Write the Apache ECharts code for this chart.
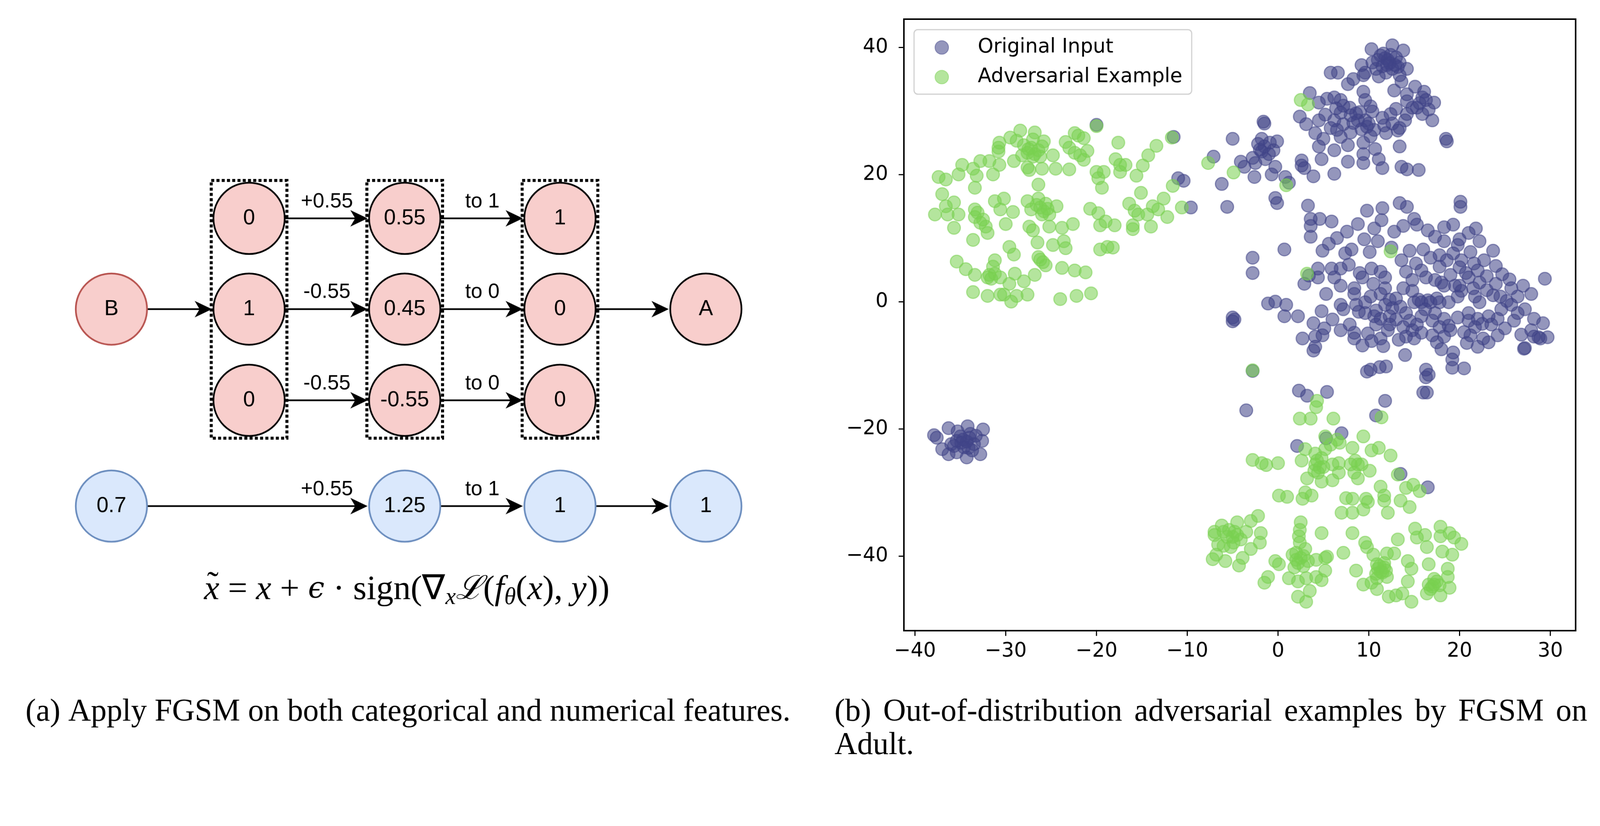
<!DOCTYPE html>
<html><head><meta charset="utf-8">
<script src="https://cdn.jsdelivr.net/npm/echarts@6/dist/echarts.min.js"></script>
<style>html,body{margin:0;padding:0;background:#fff;overflow:hidden}#c{width:4266px;height:2114px;transform-origin:0 0}</style>
</head><body><div id="c"></div>
<script>
// ---------------- scatter (b) data ----------------
const xTicks = [-40, -30, -20, -10, 0, 10, 20, 30];
const yTicks = [-40, -20, 0, 20, 40];
const seriesNames = ['Original Input', 'Adversarial Example'];

const originalInput = [
[-37.9,-21.0],[-37.6,-21.4],[-36.3,-19.9],[-36.3,-24.0],[-37.0,-23.2],[-35.3,-20.4],[-34.2,-19.6],[-32.5,-20.1],[-32.6,-21.9],[-32.8,-24.0],[-34.3,-24.5],[-35.4,-23.7],[-34.7,-21.7],[-34.0,-21.4],[-35.4,-21.9],[-33.5,-22.4],[-34.6,-22.9],[-35.7,-22.7],[-33.3,-21.1],[-33.7,-23.4],[-34.9,-22.2],[-34.3,-22.0],[-35.0,-21.2],[-34.1,-23.0],[-36.0,-22.4],[-33.9,-20.8],
[-20.0,27.8],[-11.5,25.9],[-11.0,19.4],[-10.4,19.0],[-9.6,14.8],
[-1.6,28.3],[-1.5,28.0],[-5.0,25.6],[-1.8,25.6],[-2.2,24.8],[-0.9,25.0],[-0.1,25.2],[-1.8,23.6],[-2.8,22.6],[-4.1,22.0],[-3.7,21.2],[-1.4,22.4],[-0.3,21.2],[-0.7,20.0],[-2.6,19.6],[0.8,19.6],[1.2,18.7],[-6.2,18.5],[-5.6,14.9],[-0.3,16.3],[-0.1,15.5],[-7.1,22.8],[3.3,15.1],[-1.5,24.4],[-2.0,23.9],[-1.0,23.2],[-2.5,21.8],[-0.5,23.8],
[10.3,39.7],[12.6,40.3],[13.8,39.5],[11.3,38.7],[12.1,38.0],[13.0,38.4],[13.4,37.6],[11.5,37.0],[12.6,36.6],[14.2,36.6],[10.4,37.6],[9.2,37.2],[9.6,36.0],[11.1,35.4],[13.4,35.6],[13.6,34.6],[8.3,35.0],[7.7,34.2],[9.4,35.6],[12.8,33.2],[14.2,32.6],[14.2,31.5],[15.1,33.8],[16.1,33.0],[15.9,32.1],[17.2,31.3],[15.3,30.5],[15.9,29.5],[17.0,28.5],[14.2,29.5],[14.0,28.5],[13.0,30.3],[13.4,27.3],[11.8,38.3],[12.3,37.5],[11.0,38.0],[12.9,37.2],[11.6,39.0],[12.4,38.8],[12.0,37.2],[13.2,36.9],[10.8,36.6],[11.9,36.0],
[5.8,36.0],[6.6,36.0],[5.4,31.9],[6.2,32.1],[6.9,31.7],[7.9,30.5],[9.4,33.0],[9.6,31.7],[10.2,30.7],[10.4,29.9],[11.5,28.9],[11.7,27.7],[11.9,26.5],[8.8,28.5],[9.6,28.5],[9.2,27.1],[8.3,28.1],[6.9,29.7],[6.2,28.5],[5.8,27.3],[6.9,25.9],[7.7,24.6],[9.4,25.0],[10.2,26.0],[10.7,24.0],[9.4,23.2],[11.1,22.4],[7.7,22.0],[9.4,21.8],[11.5,21.0],[6.2,20.1],[3.9,19.7],[4.5,28.5],[4.1,26.5],[4.5,24.4],[6.2,23.8],[4.8,22.4],[2.6,22.2],[2.6,21.4],[2.9,21.0],[2.4,29.1],[3.1,27.9],[4.5,31.3],[3.5,32.8],[13.4,24.4],[13.6,21.2],[14.2,20.8],[15.5,20.7],[13.2,26.9],[18.5,25.6],[18.6,25.2],[8.0,29.3],[9.0,29.8],[10.0,28.0],[7.2,30.8],
[8.6,29.6],[9.8,27.5],[10.6,27.0],[8.0,26.6],[7.2,27.9],[6.5,27.0],[12.4,29.5],[12.6,28.0],[14.8,30.5],[15.6,31.2],[16.6,30.2],[16.3,31.7],[6.4,30.4],[5.2,29.4],[5.0,25.6],
[13.4,15.5],[14.2,14.9],[11.5,14.7],[9.8,14.3],[20.1,15.7],[20.1,14.9],
[11.4,12.8],[15.0,13.0],[15.3,12.1],[3.6,13.0],[4.6,13.0],[5.9,12.6],[3.6,11.9],[3.6,10.2],[7.6,11.0],[10.6,11.5],[12.8,11.0],[13.8,11.9],[18.3,11.7],[19.3,12.1],[17.3,10.2],[18.3,9.5],[19.8,8.9],[21.0,10.8],[22.2,9.5],[21.2,7.8],[16.0,8.2],[16.8,6.9],[17.8,7.3],[19.3,7.6],[20.2,6.5],[22.7,6.5],[23.7,8.0],[24.0,5.6],[24.7,4.3],[22.0,4.9],[20.0,5.4],[20.7,4.5],[5.6,9.1],[4.9,8.0],[7.4,7.6],[8.1,8.2],[10.1,7.8],[13.6,6.5],[0.7,8.2],[-2.8,6.9],[-2.8,4.5],[4.4,5.2],[3.4,4.1],[4.4,3.8],[5.9,5.2],[6.9,5.2],[2.9,2.8],[6.9,2.5],[8.4,2.1],[9.3,3.8],[10.3,5.2],[11.3,4.7],[11.8,3.8],[14.1,4.7],[14.8,3.4],[15.8,4.9],[16.3,3.8],[17.3,3.4],[18.0,3.0],
[18.3,2.5],[19.5,2.5],[20.2,1.7],[21.5,2.1],[22.2,3.0],[21.7,0.8],[22.2,-0.1],[24.5,0.8],[25.7,2.1],[26.4,0.8],[27.9,1.2],[29.4,3.6],[25.7,-0.5],[26.4,-1.8],[27.2,-1.2],[28.2,-2.7],[29.2,-3.4],[27.9,-4.5],[28.2,-5.5],[28.9,-5.8],[27.2,-7.3],[24.2,-2.7],[23.2,-2.3],[23.5,-3.6],[24.2,-5.3],[23.2,-6.4],[22.0,-2.7],[21.7,-4.0],[21.2,-5.3],[22.0,-7.1],[21.0,-1.8],[20.0,2.5],[19.8,0.8],[18.8,-0.1],[17.8,-0.1],[16.8,-0.1],[15.8,-0.1],[15.0,-0.1],[14.8,1.7],[13.8,2.1],[14.1,-1.8],[15.8,-2.3],[17.3,-1.8],[18.3,-2.7],[18.8,-3.8],[17.8,-4.0],[15.3,-3.6],[14.8,-4.5],[15.8,-4.9],[15.0,-5.8],[17.0,-5.3],[17.5,-6.4],[18.3,-5.5],[18.0,-7.5],[19.3,-8.0],
[12.3,0.3],[12.6,-1.0],[12.3,-2.3],[12.3,-3.6],[12.1,-4.5],[11.3,-2.7],[10.8,-1.4],[10.6,-2.3],[11.3,1.2],[11.8,2.1],[10.8,-3.6],[9.6,-0.1],[9.6,-1.8],[8.9,-1.6],[8.4,1.2],[8.6,-0.5],[6.9,-0.5],[13.8,-4.0],[14.1,-5.5],[13.3,-6.0],[11.3,-5.8],[10.3,-6.2],[9.3,-6.9],[8.4,-5.8],[8.4,-4.9],[7.9,-3.6],[6.9,-4.5],[5.1,-4.2],[4.9,-5.3],[4.1,-5.5],[4.1,-7.1],[3.9,-7.7],[2.7,-5.8],[-1.1,-0.3],[-0.3,0.0],[0.9,-0.5],[0.7,-2.3],[2.2,-2.3],[3.9,-3.4],[-5.0,-2.5],[-5.0,-3.1],[-4.8,-2.8],[23.7,1.0],[25.2,0.1],[15.5,0.3],[16.5,0.2],[17.5,0.5],[21.0,-3.0],[22.5,-3.5],[19.0,-4.5],
[13.0,0.5],[13.5,-0.8],[11.8,-0.5],[10.2,0.8],[10.5,2.8],[9.0,4.5],[7.8,5.8],[6.2,3.8],[5.3,1.2],[4.8,-1.5],[6.0,-2.8],[7.2,-1.2],[9.9,-5.0],[11.6,-7.0],[13.0,-2.8],[14.5,-3.0],[16.2,-1.2],[17.0,-3.0],[19.8,-2.5],[20.5,-4.8],[20.8,-6.5],[22.6,-5.8],[24.6,-1.2],[25.0,-4.2],[26.0,-3.0],[26.8,-5.2],[23.0,1.8],[24.0,2.8],[25.5,3.5],[27.0,2.5],[21.0,3.8],[19.0,4.2],[17.8,5.5],[18.6,6.5],[21.6,6.0],[23.0,4.0],[15.2,6.0],[14.5,8.0],[12.5,8.5],[11.0,9.5],[9.5,9.8],[6.5,10.0],[8.8,12.2],[16.5,11.2],[20.0,9.8],[21.8,11.5],
[16.3,-10.7],[16.3,-11.9],[16.6,-11.5],[16.0,-14.3],[16.4,-14.3],[20.5,-10.5],[19.2,-9.1],[19.2,-10.4],[27.1,-7.4],[28.7,-5.6],[29.7,-5.6],[14.0,-8.4],[9.8,-11.0],[10.2,-10.7],[11.2,-10.3],[11.9,-10.2],[11.8,-15.6],[10.8,-17.9],[2.3,-14.0],[3.2,-14.8],[5.4,-14.2],[-3.5,-17.1],[-2.8,-10.9],[7.0,-20.7],[5.3,-21.5],[2.1,-22.7],[13.5,-27.1],[16.5,-29.2]
];

const adversarialExample = [
[-28.4,26.9],[-26.8,26.6],[-28.8,25.3],[-25.8,25.2],[-30.7,25.0],[-30.8,24.2],[-30.8,23.6],
[-28.0,24.6],[-27.2,24.2],[-27.6,23.4],[-26.4,23.8],[-26.0,24.4],[-28.2,23.0],[-27.0,22.8],[-26.2,22.8],[-27.5,24.0],[-26.8,23.2],[-27.0,25.5],[-29.5,25.8],
[-29.1,22.1],[-27.6,21.1],[-27.4,20.7],[-26.0,20.9],[-24.5,20.9],
[-23.4,25.1],[-22.4,26.5],[-22.0,26.1],[-21.4,25.7],[-23.0,24.2],[-22.4,23.4],[-21.8,23.0],[-21.0,23.7],[-21.4,22.3],[-24.8,23.0],[-23.0,20.8],
[-20.0,27.6],[-17.6,25.0],[-13.4,24.5],[-14.3,23.0],[-14.9,21.4],[-15.6,19.8],[-11.7,25.8],
[-17.9,22.4],[-17.4,21.5],[-16.8,21.5],[-17.4,20.4],
[-20.0,20.4],[-19.2,20.4],[-19.8,19.4],[-19.4,17.9],
[-11.6,18.2],[-15.1,17.1],[-12.6,16.2],[-10.6,14.8],
[-16.4,15.4],[-15.8,14.3],[-15.4,13.7],[-13.8,15.0],[-13.2,14.5],[-14.4,13.7],[-14.0,11.8],[-16.0,12.0],[-16.0,11.4],[-12.2,13.3],
[-20.7,14.6],[-19.8,13.9],[-19.0,12.6],[-18.0,12.0],[-19.6,12.0],
[-19.6,8.2],[-18.8,8.6],[-18.2,8.5],
[-37.4,19.6],[-36.6,19.2],[-35.2,20.0],[-34.8,21.5],[-37.0,16.9],[-36.6,15.0],[-35.7,15.6],[-37.8,13.7],[-36.4,13.7],[-35.2,13.7],[-35.7,11.6],[-33.4,17.9],[-33.6,20.9],[-32.8,22.1],[-31.8,22.1],[-30.7,21.5],[-31.4,20.0],[-33.2,19.8],
[-33.4,14.5],[-33.4,13.3],[-32.8,12.4],[-32.2,11.8],[-32.0,10.8],[-33.6,9.7],[-31.2,15.8],[-30.2,16.2],[-30.6,14.5],[-29.2,14.1],[-30.0,12.2],[-33.1,14.0],[-32.5,12.9],
[-26.4,18.4],[-27.6,15.8],[-26.4,16.2],[-25.6,15.4],[-27.2,14.5],[-26.0,13.7],[-25.2,13.7],[-24.4,15.0],[-27.4,11.8],[-27.0,11.2],[-25.2,11.8],[-23.8,11.6],[-22.6,12.2],[-23.6,9.5],[-23.4,8.4],[-24.8,8.9],[-26.5,9.3],[-26.2,14.8],[-25.8,14.2],[-26.6,15.2],[-25.4,14.6],
[-29.6,8.6],[-29.1,7.4],[-26.4,7.0],[-25.6,5.7],[-26.8,4.2],[-28.0,3.2],[-29.0,4.4],[-29.6,2.8],[-32.0,3.8],[-31.2,4.4],[-30.6,3.8],[-31.2,6.5],[-31.4,5.5],[-33.4,4.2],[-34.4,5.1],[-35.4,6.3],[-31.6,3.6],[-25.9,6.2],[-31.8,4.2],[-26.2,6.6],
[-23.8,5.3],[-22.4,4.9],[-21.2,4.6],[-24.0,0.4],[-22.2,0.9],[-20.6,1.3],[-33.6,1.5],[-32.0,0.9],[-30.6,1.1],[-29.4,0.0],[-28.8,0.9],[-27.6,1.1],[-30.2,1.1],
[2.5,31.7],[3.3,31.0],[-7.7,21.8],[-4.9,20.3],[0.9,18.3],[12.4,7.9],[3.2,4.4],[-2.8,-10.8],
[4.3,-15.6],[4.2,-16.6],[2.4,-18.4],[3.6,-18.4],[6.1,-18.4],[5.2,-21.2],[6.5,-21.7],[9.4,-21.2],[11.4,-18.2],
[3.0,-23.2],[4.1,-23.9],[5.2,-23.2],[5.8,-22.5],[6.8,-22.2],[8.2,-23.0],[10.3,-23.4],[11.1,-23.0],[12.4,-24.2],
[-2.8,-24.9],[-1.8,-25.4],[-1.3,-25.7],[0.0,-25.4],[2.6,-25.0],[4.1,-25.6],[4.6,-26.1],[4.4,-26.9],[6.0,-25.6],[6.7,-25.4],[6.7,-26.9],[8.0,-25.6],[8.8,-25.6],[9.2,-25.6],[8.4,-26.9],[10.1,-26.6],[8.8,-27.8],[6.0,-28.1],[4.8,-28.3],[3.2,-27.8],[13.2,-27.2],[11.3,-29.1],[14.1,-29.3],[14.9,-28.8],[15.6,-29.8],[4.0,-26.6],[4.3,-25.0],[5.0,-26.0],[8.5,-25.0],[4.8,-24.6],
[0.1,-30.5],[1.0,-30.7],[3.0,-30.0],[2.7,-31.0],[3.7,-30.5],[7.5,-30.9],[8.2,-31.0],[9.7,-31.0],[9.9,-31.5],[11.7,-30.5],[11.7,-31.3],[13.5,-31.3],[14.5,-32.3],[9.4,-32.7],[7.0,-33.2],[8.2,-33.2],[12.1,-33.2],
[-2.2,-33.7],[-3.0,-34.5],[-4.5,-34.7],[-6.2,-35.2],[-7.0,-36.2],[-5.4,-35.9],[-4.5,-36.7],[-4.1,-37.4],[-4.9,-37.9],[-3.5,-36.2],[-1.9,-36.4],[-2.0,-37.9],[-3.0,-38.9],[-3.9,-40.3],[-4.3,-41.5],[-6.0,-38.4],[-6.8,-39.8],[-5.8,-40.8],[-4.8,-36.2],[-5.0,-37.0],[-7.0,-36.7],[-6.6,-38.2],[-7.2,-40.5],[-5.6,-37.0],[-6.0,-36.2],[-5.2,-38.6],
[2.5,-34.7],[2.4,-35.9],[2.3,-36.9],[2.4,-37.9],[3.0,-38.9],[1.6,-39.8],[2.5,-40.3],[2.2,-41.1],[3.3,-40.8],[1.8,-41.8],[-0.3,-40.8],[0.1,-41.3],[-1.1,-43.3],[-1.5,-44.2],[1.2,-43.5],[2.2,-44.0],[3.1,-43.5],[4.2,-43.3],[4.8,-43.8],[3.5,-45.5],[2.2,-46.4],[3.1,-47.2],[4.8,-36.4],[5.2,-40.3],[5.4,-40.1],[4.2,-40.6],[5.2,-42.3],[7.2,-39.5],[8.2,-36.4],[8.6,-42.3],[9.4,-44.5],[2.8,-40.0],[2.0,-40.6],[2.0,-39.5],[2.8,-41.6],
[9.6,-37.9],[9.8,-38.6],[10.5,-39.8],[10.9,-41.3],[11.7,-41.8],[11.3,-42.5],[10.9,-43.5],[10.3,-44.2],[10.9,-45.2],[11.7,-41.1],[12.0,-39.6],[12.8,-39.6],[12.0,-43.3],[12.2,-46.4],[13.0,-46.2],[13.7,-45.9],[14.7,-47.2],[14.3,-40.8],[14.7,-42.0],[14.3,-44.0],[13.2,-37.4],[11.0,-42.0],[11.5,-42.6],[11.2,-41.6],[10.8,-42.8],[11.9,-42.3],
[15.1,-35.7],[16.2,-36.7],[15.3,-37.1],[16.4,-38.6],[16.6,-41.3],[17.9,-35.4],[17.9,-36.9],[18.9,-36.4],[19.4,-37.1],[20.2,-38.1],[18.1,-39.3],[19.2,-39.8],[18.7,-42.0],[18.7,-43.3],[18.9,-45.0],[16.6,-44.5],[17.2,-44.5],[17.5,-44.0],[16.4,-45.9],[17.9,-46.2],[17.0,-44.8],[17.2,-43.6],[16.8,-45.2],[17.8,-44.6]
];

// ---------------- diagram (a) data ----------------
// layout positions in node-diameter units
const colX = [1.531, 3.423, 5.562, 7.696, 9.701];
const rowY = [3.0, 4.247, 5.5, 6.954];
const nodeCol  = [0, 1, 1, 1, 2, 2, 2, 3, 3, 3, 4, 0, 2, 3, 4];
const nodeRow  = [1, 0, 1, 2, 0, 1, 2, 0, 1, 2, 1, 3, 3, 3, 3];
const nodeText = ['B', '0', '1', '0', '0.55', '0.45', '-0.55', '1', '0', '0', 'A', '0.7', '1.25', '1', '1'];
const nodeKind = [0, 1, 1, 1, 1, 1, 1, 1, 1, 1, 1, 2, 2, 2, 2];
const edgeFrom = [0, 1, 2, 3, 4, 5, 6, 8, 11, 12, 13];
const edgeTo   = [2, 4, 5, 6, 7, 8, 9, 10, 12, 13, 14];
const labelText = ['+0.55', '-0.55', '-0.55', 'to 1', 'to 0', 'to 0', '+0.55', 'to 1'];
const labelGap  = [1, 1, 1, 2, 2, 2, 1, 2];
const labelRow  = [0, 1, 2, 0, 1, 2, 3, 3];
const groupCols = [1, 2, 3];

const kinds = [
  {fill: '#f8cecc', stroke: '#b85450'},
  {fill: '#f8cecc', stroke: '#000000'},
  {fill: '#dae8fc', stroke: '#6c8ebf'}
];
const captionA = '(a) Apply FGSM on both categorical and numerical features.';
const captionB1 = '(b) Out-of-distribution adversarial examples by FGSM on';
const captionB2 = 'Adult.';

// ---------------- build ----------------
const W = 4266, H = 2114;
const dom = document.getElementById('c');
const sc = Math.min(window.innerWidth / W, window.innerHeight / H);
dom.style.transform = 'scale(' + sc + ')';

const ctx = document.createElement('canvas').getContext('2d');
function tw(t, font) { ctx.font = font; return ctx.measureText(t).width; }
const fmt = v => String(v).replace('-', '\u2212');

const capFam = 'Liberation Serif';
const capSize = 72 * 2040 / tw(captionA, '72px "' + capFam + '"');
const graphics = [];
graphics.push({type: 'text', x: 68, y: 1899, style: {text: captionA, fontSize: capSize, fontFamily: capFam, fill: '#000', verticalAlign: 'middle'}});
const words = captionB1.split(' ');
const wWidths = words.map(w => tw(w, capSize + 'px "' + capFam + '"'));
const gap = (4232 - 2225 - wWidths.reduce((a, b) => a + b, 0)) / (words.length - 1);
let cx = 2225;
words.forEach((w, i) => {
  graphics.push({type: 'text', x: cx, y: 1899, style: {text: w, fontSize: capSize, fontFamily: capFam, fill: '#000', verticalAlign: 'middle'}});
  cx += wWidths[i] + gap;
});
graphics.push({type: 'text', x: 2225, y: 1988, style: {text: captionB2, fontSize: capSize, fontFamily: capFam, fill: '#000', verticalAlign: 'middle'}});

// formula pieces (sizes relative to base size)
const pieces = [
  {t: 'x', s: 1, st: 'italic', acc: true},
  {t: ' = ', s: 1}, {t: 'x', s: 1, st: 'italic'}, {t: ' + ', s: 1},
  {t: '\u03f5', s: 0.85, st: 'italic', fam: 'DejaVu Serif'},
  {t: ' \u00b7 ', s: 1}, {t: 'sign(', s: 1}, {t: '\u2207', s: 1},
  {t: 'x', s: 0.68, st: 'italic', dy: 0.22},
  {t: '\u2112', s: 0.95, st: 'italic', fam: 'DejaVu Serif'},
  {t: '(', s: 1}, {t: 'f', s: 1, st: 'italic'},
  {t: '\u03b8', s: 0.68, st: 'italic', dy: 0.22},
  {t: '(', s: 1}, {t: 'x', s: 1, st: 'italic'}, {t: '), ', s: 1}, {t: 'y', s: 1, st: 'italic'}, {t: '))', s: 1}
];
const fontOf = (p, F) => (p.st || 'normal') + ' ' + (p.s * F) + 'px "' + (p.fam || 'Liberation Serif') + '"';
const w66 = pieces.map(p => tw(p.t, fontOf(p, 66))).reduce((a, b) => a + b, 0);
const F = 66 * 1080 / w66;
const pw = pieces.map(p => tw(p.t, fontOf(p, F)));
let fx = 1084 - 540;
pieces.forEach((p, i) => {
  graphics.push({type: 'text', x: fx, y: 1573 + (p.dy || 0) * F, style: {text: p.t, fontSize: p.s * F, fontStyle: p.st || 'normal', fontFamily: p.fam || 'Liberation Serif', fill: '#000', verticalAlign: 'middle'}});
  if (p.acc) graphics.push({type: 'text', x: fx + pw[i] / 2 + 3, y: 1573 - 0.12 * F, style: {text: '\u02dc', fontSize: F, fontFamily: 'Liberation Serif', fill: '#000', align: 'center', verticalAlign: 'middle'}});
  fx += pw[i];
});

const blue = 'rgba(65,68,135,0.7)';
const green = 'rgba(122,209,81,0.7)';

const option = {
  backgroundColor: '#ffffff',
  animation: false,
  grid: [
    {left: 2410, top: 51, width: 1791, height: 1630, show: true, borderColor: '#000', borderWidth: 4, backgroundColor: 'transparent'},
    {left: 0, top: 0, width: 2100, height: 2114, show: false}
  ],
  xAxis: [
    {gridIndex: 0, type: 'value', min: -41.22, max: 32.79, position: 'bottom', axisLine: {show: false, onZero: false}, splitLine: {show: false},
     axisTick: {show: true, length: 14, lineStyle: {width: 3, color: '#000'}, customValues: xTicks},
     axisLabel: {customValues: xTicks, fontSize: 53, fontFamily: 'DejaVu Sans', color: '#000', margin: 29, formatter: fmt}},
    {gridIndex: 1, type: 'value', min: 0, max: 2100 / 194, show: false}
  ],
  yAxis: [
    {gridIndex: 0, type: 'value', min: -51.74, max: 44.42, position: 'left', axisLine: {show: false, onZero: false}, splitLine: {show: false},
     axisTick: {show: true, length: 14, lineStyle: {width: 3, color: '#000'}, customValues: yTicks},
     axisLabel: {customValues: yTicks, fontSize: 53, fontFamily: 'DejaVu Sans', color: '#000', margin: 42, formatter: fmt}},
    {gridIndex: 1, type: 'value', min: 0, max: 2114 / 194, inverse: true, show: false}
  ],
  legend: {
    data: seriesNames, orient: 'vertical', left: 2437, top: 79, padding: [21, 25, 19, 55],
    itemGap: 26, itemWidth: 40, itemHeight: 36,
    backgroundColor: 'rgba(255,255,255,0.8)', borderColor: '#d0d0d0', borderWidth: 3, borderRadius: 10,
    textStyle: {fontSize: 53, fontFamily: 'DejaVu Sans', color: '#000', padding: [0, 0, 0, 71]}
  },
  graphic: graphics,
  series: [
    {type: 'scatter', name: seriesNames[0], xAxisIndex: 0, yAxisIndex: 0, data: originalInput, symbol: 'circle', symbolSize: 34,
     itemStyle: {color: blue, borderColor: blue, borderWidth: 3}, emphasis: {disabled: true}, silent: true, z: 2},
    {type: 'scatter', name: seriesNames[1], xAxisIndex: 0, yAxisIndex: 0, data: adversarialExample, symbol: 'circle', symbolSize: 34,
     itemStyle: {color: green, borderColor: green, borderWidth: 3}, emphasis: {disabled: true}, silent: true, z: 3},
    {type: 'custom', xAxisIndex: 1, yAxisIndex: 1, silent: true, z: 4,
     data: groupCols.map(c => [colX[c] - 0.52, rowY[0] - 0.52, colX[c] + 0.52, rowY[2] + 0.52]),
     encode: {x: [0, 2], y: [1, 3]},
     renderItem: function (params, api) {
       const a = api.coord([api.value(0), api.value(1)]);
       const b = api.coord([api.value(2), api.value(3)]);
       return {type: 'rect', shape: {x: a[0], y: a[1], width: b[0] - a[0], height: b[1] - a[1]},
               style: {fill: 'none', stroke: '#000', lineWidth: 8, lineDash: [8, 6]}};
     }},
    {type: 'custom', xAxisIndex: 1, yAxisIndex: 1, silent: true, z: 5,
     data: edgeFrom.map((f, i) => [colX[nodeCol[f]], rowY[nodeRow[f]], colX[nodeCol[edgeTo[i]]], rowY[nodeRow[edgeTo[i]]]]),
     encode: {x: [0, 2], y: [1, 3]},
     renderItem: function (params, api) {
       const p1 = api.coord([api.value(0), api.value(1)]);
       const p2 = api.coord([api.value(2), api.value(3)]);
       const r = api.size([1, 1])[0] / 2;
       const x0 = p1[0] + r, tip = p2[0] - r - 2, y = p1[1];
       return {type: 'group', children: [
         {type: 'line', shape: {x1: x0, y1: y, x2: tip - 30, y2: y}, style: {stroke: '#000', lineWidth: 4.5}},
         {type: 'polygon', shape: {points: [[tip, y], [tip - 46, y - 22], [tip - 33, y], [tip - 46, y + 22]]}, style: {fill: '#000'}}
       ]};
     }},
    {type: 'custom', xAxisIndex: 1, yAxisIndex: 1, silent: true, z: 6,
     data: nodeCol.map((c, i) => [colX[c], rowY[nodeRow[i]]]),
     renderItem: function (params, api) {
       const i = params.dataIndex;
       const c = api.coord([api.value(0), api.value(1)]);
       const r = api.size([1, 1])[0] / 2 - 2;
       const k = kinds[nodeKind[i]];
       return {type: 'group', children: [
         {type: 'circle', shape: {cx: c[0], cy: c[1], r: r}, style: {fill: k.fill, stroke: k.stroke, lineWidth: 4.5}},
         {type: 'text', style: {text: nodeText[i], x: c[0], y: c[1], align: 'center', verticalAlign: 'middle', fontSize: 57, fontFamily: 'Liberation Sans', fill: '#000'}}
       ]};
     }},
    {type: 'custom', xAxisIndex: 1, yAxisIndex: 1, silent: true, z: 7,
     data: labelGap.map((g, i) => [(colX[g] + colX[g + 1]) / 2, rowY[labelRow[i]] - 0.23]),
     renderItem: function (params, api) {
       const c = api.coord([api.value(0), api.value(1)]);
       return {type: 'text', style: {text: labelText[params.dataIndex], x: c[0], y: c[1], align: 'center', verticalAlign: 'middle', fontSize: 55, fontFamily: 'Liberation Sans', fill: '#000'}};
     }}
  ]
};
const chart = echarts.init(dom, null, {width: W, height: H});
chart.setOption(option);
</script></body></html>
